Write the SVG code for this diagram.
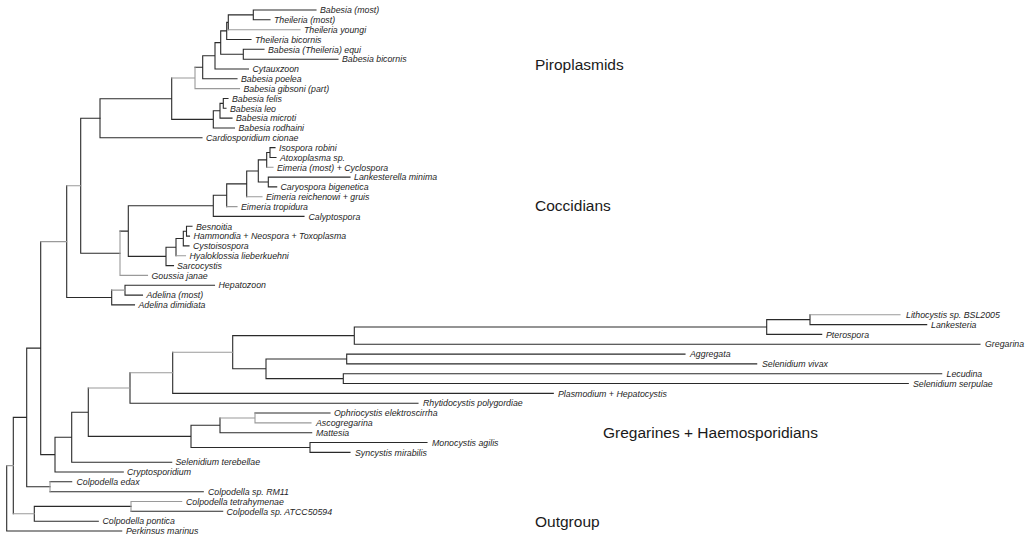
<svg xmlns="http://www.w3.org/2000/svg" width="1032" height="541" viewBox="0 0 1032 541">
<style>
.bg{fill:#fff}
.d{fill:none;stroke:#2a2a2a;stroke-width:1.1;stroke-linecap:square}
.g{fill:none;stroke:#9a9a9a;stroke-width:1.1;stroke-linecap:square}
.t{font-family:"Liberation Sans",Arial,sans-serif;font-style:italic;font-size:8.8px;fill:#1e1e1e}
.c{font-family:"Liberation Sans",Arial,sans-serif;font-size:15.5px;fill:#1a1a1a}
</style>
<rect class="bg" x="0" y="0" width="1032" height="541"/>
<g id="connectors">
<path class="d" d="M316 10H253.3V19.8H270 M253.3 14.9H228.3V29.7 M228.3 22.35H226.7V39.5H251 M264 49.3H243.3V59.2H338 M226.7 30.9H220.7V54.25H243.3 M220.7 42.6H215V69H248.5 M215 55.8H202.7V78.8H237 M202.7 67.3H195 M228 98.5H223.3V108.3H226 M223.3 103.4H220V118.1H232 M220 110.75H213.3V128H234.5 M171.7 77.95V119.4H213.3 M171.7 98.7H100V137.8H202"/>
<path class="g" d="M228.3 29.7H300 M195 67.3V88.6H239.5 M171.7 77.95H195"/>
<path class="d" d="M275 147.6H270V157.5H276 M270 152.55H266.7V167.3 M350 177.1H268.3V186.9H276.7 M266.7 159.9H258.3V182H268.3 M258.3 170.95H246.7V196.8 M246.7 183.9H226.7V206.6 M226.7 195.25H213.3V216.4H304 M192 226.3H186.5V236.1H189.5 M186.5 231.2H183.3V245.9H189 M183.3 238.55H176V255.8 M176 247.2H166V265.6H173.5 M213.3 205.8H128.3V256.4H166 M128.3 231.1H120 M100 118.25H80.7V253.25H120 M214.5 285.2H125V295.1H142.5 M111.7 290.15V304.9H134.5 M80.7 185.75 M66.7 185.75V297.5H111.7"/>
<path class="g" d="M266.7 167.3H273 M246.7 196.8H262 M226.7 206.6H237 M176 255.8H185.5 M120 231.1V275.4H147.5 M111.7 290.15H125 M66.7 185.75H80.7"/>
<path class="d" d="M810 314.7V324.6H926.7 M810 319.65H766.7V334.4H821.7 M766.7 327H354.3V344.2H980 M685 354.1H346.7V363.9H756.7 M941.7 373.7H343.3V383.5H908.3 M346.7 359H266V378.6H343.3 M354.3 335.6H232.7V368.8H266 M232.7 352.2 M172.7 352.2V393.4H553.3 M172.7 372.8 M130 372.8V403.2H418 M330 413H255 M255 432.7 M311.7 432.7H220V417.95 M427 442.5H310V452.4H350 M220 425.3H191V447.45H310 M130 388 M88.3 388V436.4H191 M88.3 412.2H71.7V462.2H171.7 M71.7 437.2H55V472H123.3 M55 454.6H40.7V241.6 M71.7 481.8H50 M50 491.7H203.3 M40.7 348.1H26.7V486.75H50 M131 511.3H222.7 M131 506.4H34.3V521.2H98.3 M26.7 417.4H13.3V513.8 M13.3 465.6 M6.7 465.6V531H121.7"/>
<path class="g" d="M810 314.7H900 M172.7 352.2H232.7 M130 372.8H172.7 M255 413V422.9H311 M220 417.95H255 M88.3 388H130 M40.7 241.6H66.7 M50 481.8V491.7 M131 501.5H181.7 M131 501.5V511.3 M13.3 513.8H34.3 M6.7 465.6H13.3"/>
</g>
<g id="n0"><text class="t" x="320" y="13.2">Babesia (most)</text></g>
<g id="n1"><text class="t" x="274" y="23">Theileria (most)</text></g>
<g id="n2"><text class="t" x="304" y="32.9">Theileria youngi</text></g>
<g id="n3"><text class="t" x="255" y="42.7">Theileria bicornis</text></g>
<g id="n4"><text class="t" x="268" y="52.5">Babesia (Theileria) equi</text></g>
<g id="n5"><text class="t" x="342" y="62.4">Babesia bicornis</text></g>
<g id="n6"><text class="t" x="252.5" y="72.2">Cytauxzoon</text></g>
<g id="n7"><text class="t" x="241" y="82">Babesia poelea</text></g>
<g id="n8"><text class="t" x="243.5" y="91.8">Babesia gibsoni (part)</text></g>
<g id="n9"><text class="t" x="232" y="101.7">Babesia felis</text></g>
<g id="n10"><text class="t" x="230" y="111.5">Babesia leo</text></g>
<g id="n11"><text class="t" x="236" y="121.3">Babesia microti</text></g>
<g id="n12"><text class="t" x="238.5" y="131.2">Babesia rodhaini</text></g>
<g id="n13"><text class="t" x="206" y="141">Cardiosporidium cionae</text></g>
<g id="n14"><text class="t" x="279" y="150.8">Isospora robini</text></g>
<g id="n15"><text class="t" x="280" y="160.7">Atoxoplasma sp.</text></g>
<g id="n16"><text class="t" x="277" y="170.5">Eimeria (most) + Cyclospora</text></g>
<g id="n17"><text class="t" x="354" y="180.3">Lankesterella minima</text></g>
<g id="n18"><text class="t" x="280.5" y="190.1">Caryospora bigenetica</text></g>
<g id="n19"><text class="t" x="266" y="200">Eimeria reichenowi + gruis</text></g>
<g id="n20"><text class="t" x="241" y="209.8">Eimeria tropidura</text></g>
<g id="n21"><text class="t" x="308.5" y="219.6">Calyptospora</text></g>
<g id="n22"><text class="t" x="196" y="229.5">Besnoitia</text></g>
<g id="n23"><text class="t" x="193.5" y="239.3">Hammondia + Neospora + Toxoplasma</text></g>
<g id="n24"><text class="t" x="193" y="249.1">Cystoisospora</text></g>
<g id="n25"><text class="t" x="189.5" y="259">Hyaloklossia lieberkuehni</text></g>
<g id="n26"><text class="t" x="177" y="268.8">Sarcocystis</text></g>
<g id="n27"><text class="t" x="151.5" y="278.6">Goussia janae</text></g>
<g id="n28"><text class="t" x="218.5" y="288.4">Hepatozoon</text></g>
<g id="n29"><text class="t" x="146.5" y="298.3">Adelina (most)</text></g>
<g id="n30"><text class="t" x="138.5" y="308.1">Adelina dimidiata</text></g>
<g id="n31"><text class="t" x="906" y="317.9">Lithocystis sp. BSL2005</text></g>
<g id="n32"><text class="t" x="931" y="327.8">Lankesteria</text></g>
<g id="n33"><text class="t" x="826" y="337.6">Pterospora</text></g>
<g id="n34"><text class="t" x="985" y="347.4">Gregarina</text></g>
<g id="n35"><text class="t" x="690" y="357.3">Aggregata</text></g>
<g id="n36"><text class="t" x="762" y="367.1">Selenidium vivax</text></g>
<g id="n37"><text class="t" x="946.5" y="376.9">Lecudina</text></g>
<g id="n38"><text class="t" x="913" y="386.7">Selenidium serpulae</text></g>
<g id="n39"><text class="t" x="558" y="396.6">Plasmodium + Hepatocystis</text></g>
<g id="n40"><text class="t" x="423" y="406.4">Rhytidocystis polygordiae</text></g>
<g id="n41"><text class="t" x="334" y="416.2">Ophriocystis elektroscirrha</text></g>
<g id="n42"><text class="t" x="316" y="426.1">Ascogregarina</text></g>
<g id="n43"><text class="t" x="316" y="435.9">Mattesia</text></g>
<g id="n44"><text class="t" x="432" y="445.7">Monocystis agilis</text></g>
<g id="n45"><text class="t" x="355" y="455.6">Syncystis mirabilis</text></g>
<g id="n46"><text class="t" x="175.5" y="465.4">Selenidium terebellae</text></g>
<g id="n47"><text class="t" x="127" y="475.2">Cryptosporidium</text></g>
<g id="n48"><text class="t" x="76.5" y="485">Colpodella edax</text></g>
<g id="n49"><text class="t" x="208" y="494.9">Colpodella sp. RM11</text></g>
<g id="n50"><text class="t" x="186" y="504.7">Colpodella tetrahymenae</text></g>
<g id="n51"><text class="t" x="226.5" y="514.5">Colpodella sp. ATCC50594</text></g>
<g id="n52"><text class="t" x="102.5" y="524.4">Colpodella pontica</text></g>
<g id="n53"><text class="t" x="126" y="534.2">Perkinsus marinus</text></g>
<g id="lbl-piro"><text class="c" x="535" y="70">Piroplasmids</text></g>
<g id="lbl-cocc"><text class="c" x="535" y="210.5">Coccidians</text></g>
<g id="lbl-greg"><text class="c" x="603" y="438">Gregarines + Haemosporidians</text></g>
<g id="lbl-out"><text class="c" x="535" y="527">Outgroup</text></g>
</svg>
